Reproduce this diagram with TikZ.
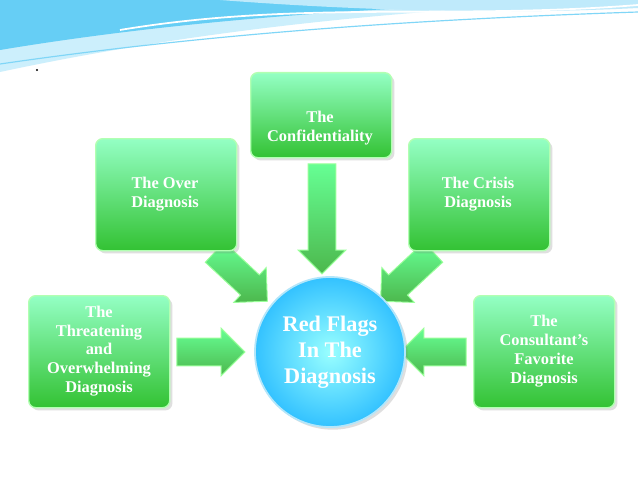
\documentclass[tikz,border=0pt]{standalone}
\usepackage{fontspec}
\setmainfont{Liberation Serif}
\usetikzlibrary{shapes.arrows,shadows}
\begin{document}
\begin{tikzpicture}[x=0.03cm,y=-0.03cm,
  box/.style={rounded corners=6pt,draw=green!30!white,line width=1.2pt,
    top color=green!55!cyan!60!white!70,bottom color=green!70!black!80,
    minimum width=141*0.03cm,minimum height=112*0.03cm,anchor=north west,
    drop shadow={opacity=0.25}},
  arr/.style={single arrow,draw=green!40!white,line width=0.8pt,
    top color=green!70!cyan!60,bottom color=green!60!black!70,
    single arrow head extend=0.3cm,inner xsep=0pt,inner ysep=0.4cm,
    shape border uses incircle=false},
  lbl/.style={text=white,font=\bfseries\fontsize{14pt}{16pt}\selectfont,align=center}]
\useasboundingbox (0,0) rectangle (638,478);
\fill[white] (0,0) rectangle (638,478);
% top wave
\fill[cyan!20!white] (0,0) -- (0,72) .. controls (150,40) and (350,10) .. (638,0) -- cycle;
\fill[cyan!60!white] (0,0) -- (0,50) .. controls (150,25) and (350,5) .. (638,0) -- cycle;
\fill[cyan!25!white] (220,0) .. controls (350,10) and (500,15) .. (638,8) -- (638,0) -- cycle;
\draw[white,line width=1.5pt] (120,30) .. controls (300,0) and (450,20) .. (638,5);
\draw[cyan!50!white,line width=1pt] (0,64) .. controls (200,35) and (400,20) .. (638,12);
\fill[black] (37,70) circle (1.2);
% arrows
\node[arr,minimum height=110*0.03cm,rotate=-90] (a1) at (322,212) {};
\node[arr,minimum height=72*0.03cm,rotate=-43] (a2) at (236,272) {};
\node[arr,minimum height=72*0.03cm,rotate=-137] (a3) at (412,272) {};
\node[arr,minimum height=68*0.03cm] (a4) at (204,352) {};
\node[arr,minimum height=66*0.03cm,rotate=180] (a5) at (440,352) {};
% boxes
\node[box,minimum height=85*0.03cm] (b1) at (250,72) {};
\node[lbl] at (320,128) {The\\Confidentiality};
\node[box] (b2) at (95,138) {};
\node[lbl] at (165,194) {The Over\\Diagnosis};
\node[box] (b3) at (408,138) {};
\node[lbl] at (478,194) {The Crisis\\Diagnosis};
\node[box] (b4) at (28,295) {};
\node[lbl] at (99,351) {The\\Threatening\\and\\Overwhelming\\Diagnosis};
\node[box] (b5) at (473,295) {};
\node[lbl] at (544,351) {The\\Consultant's\\Favorite\\Diagnosis};
% circle
\node[circle,minimum size=150*0.03cm,draw=cyan!30!white,line width=1.5pt,
  inner color=cyan!40!white,outer color=cyan!70!blue!80,
  text=white,font=\bfseries\fontsize{19pt}{22pt}\selectfont,align=center,
  drop shadow={opacity=0.25}] (c) at (330,352) {Red Flags\\In The\\Diagnosis};
\end{tikzpicture}
\end{document}
